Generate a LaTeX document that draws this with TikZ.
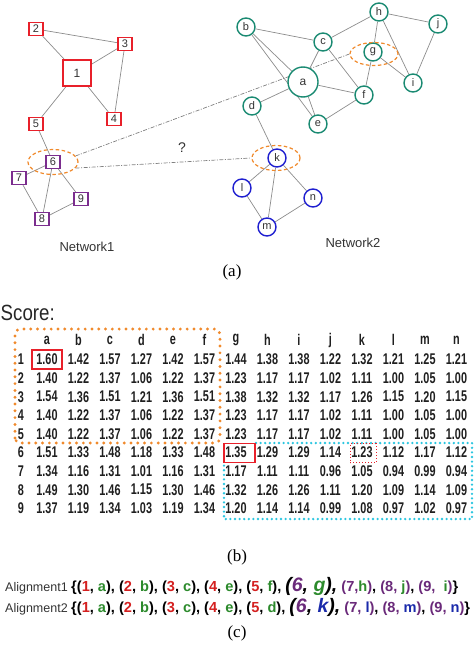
\documentclass[tikz,border=0pt]{standalone}
\usepackage{fontspec}
\setmainfont{Liberation Sans}
\newfontfamily\serifx{Liberation Serif}
\newfontfamily\narrowx[FakeStretch=0.7]{Liberation Sans}
\newfontfamily\scorex[FakeStretch=0.85]{Liberation Sans}
\usetikzlibrary{shapes.geometric,backgrounds}
\definecolor{nred}{HTML}{E8202A}
\definecolor{npur}{HTML}{7B2D8E}
\definecolor{nteal}{HTML}{1A8A72}
\definecolor{nblue}{HTML}{1F1FD0}
\definecolor{norange}{HTML}{F08A2C}
\definecolor{ncyan}{HTML}{2BC6E0}
\definecolor{egray}{HTML}{8C8C8C}
\definecolor{txt}{HTML}{333333}
\definecolor{ared}{HTML}{D42020}
\definecolor{agreen}{HTML}{2C8A2C}
\definecolor{apur}{HTML}{6A2A7A}
\definecolor{ablue}{HTML}{1A2AAA}
\newcommand\alR[1]{\textcolor{ared}{#1}}
\newcommand\alG[1]{\textcolor{agreen}{#1}}
\newcommand\alP[1]{\textcolor{apur}{#1}}
\newcommand\alB[1]{\textcolor{ablue}{#1}}
\newcommand\alBig[1]{{\fontsize{19.5}{19.5}\selectfont\bfseries\itshape #1}}
\tikzset{
  lbl/.style={text=txt, font=\fontsize{11}{11}\selectfont},
  sqr/.style={lbl, draw=nred, line width=1.3pt, fill=white, minimum width=14pt, minimum height=13pt, inner sep=0pt},
  sqp/.style={sqr, draw=npur},
  cir/.style={lbl, circle, draw=nteal, line width=1.4pt, fill=white, minimum size=18pt, inner sep=0pt},
  cirb/.style={cir, draw=nblue},
  nedge/.style={egray, line width=0.7pt},
  ring/.style={ellipse, draw=norange, line width=1.2pt, dash pattern=on 3.5pt off 2.5pt},
  link/.style={gray, line width=0.7pt, dash pattern=on 4pt off 1.5pt on 1pt off 1.5pt},
  num/.style={inner sep=0pt, text=black!88, font=\narrowx\bfseries\fontsize{15.5}{15.5}\selectfont},
  redbox/.style={draw=nred, line width=1.2pt, minimum width=30pt, minimum height=19pt, inner sep=0pt},
  odots/.style={norange, line width=3.2pt, dash pattern=on 0pt off 6.8pt, line cap=round},
  cdots/.style={ncyan, line width=2.6pt, dash pattern=on 0pt off 4.6pt, line cap=round},
  captext/.style={font=\serifx\fontsize{17}{17}\selectfont},
  aline/.style={anchor=west, inner sep=0pt, font=\fontsize{12.5}{12.5}\selectfont},
}
\begin{document}
\begin{tikzpicture}[x=1pt,y=-1pt]
\useasboundingbox (0,0) rectangle (474,645);
% ---------- Network 1
\node[sqr] (n2) at (36,29) {2};
\node[sqr] (n3) at (125,44) {3};
\node[sqr, minimum width=28pt, minimum height=26pt, font=\fontsize{12}{12}\selectfont] (n1) at (77,73) {1};
\node[sqr] (n4) at (114,119) {4};
\node[sqr] (n5) at (36,124) {5};
\node[sqp] (n6) at (53,162) {6};
\node[sqp] (n7) at (19,178) {7};
\node[sqp] (n9) at (81,199) {9};
\node[sqp] (n8) at (42,219) {8};
\node[lbl, font=\fontsize{13}{13}\selectfont] (net1) at (87,247) {Network1};
\node[ring, minimum width=50pt, minimum height=25pt] (e6) at (53,162) {};
% ---------- Network 2
\node[cir] (h) at (379,12) {h};
\node[cir] (j) at (438,24) {j};
\node[cir] (b) at (246,27) {b};
\node[cir] (c) at (323,42) {c};
\node[cir] (g) at (373,52) {g};
\node[cir, minimum size=30pt, font=\fontsize{12}{12}\selectfont] (a) at (303,82) {a};
\node[cir] (i) at (413,83) {i};
\node[cir] (f) at (364,95) {f};
\node[cir] (d) at (252,106) {d};
\node[cir] (e) at (318,124) {e};
\node[cirb] (k) at (277,158) {k};
\node[cirb] (l) at (242,188) {l};
\node[cirb] (n) at (313,198) {n};
\node[cirb] (m) at (267,227) {m};
\node[ring, minimum width=48pt, minimum height=23pt] (eg) at (374,54) {};
\node[ring, minimum width=48pt, minimum height=25pt] (ek) at (276,158) {};
\node[lbl, font=\fontsize{13}{13}\selectfont] (net2) at (353,243) {Network2};
\node[font=\fontsize{14}{14}\selectfont, text=txt] (q) at (182,148) {?};
\node[captext] (capa) at (232,272) {(a)};
\begin{pgfonlayer}{background}
\foreach \u/\v in {n2/n3,n2/n1,n1/n3,n3/n4,n1/n4,n1/n5,n5/n6,n6/n7,n6/n8,n6/n9,n7/n8,n8/n9}
  \draw[nedge] (\u) -- (\v);
\foreach \u/\v in {b/c,b/a,b/e,c/h,c/a,c/f,h/g,h/j,h/i,g/f,g/i,j/i,a/f,a/e,a/d,e/f,d/k,k/l,k/m,k/n,l/m,m/n}
  \draw[nedge] (\u) -- (\v);
\draw[link] (e6.15) -- (eg.west);
\draw[link] (e6.-15) -- (ek.west);
\end{pgfonlayer}
% ---------- Score table
\node[anchor=west, inner sep=0pt, font=\scorex\fontsize{22}{22}\selectfont, text=black!85] (score) at (0.5,313) {Score:};
\foreach \hh [count=\jj from 0] in {a,b,c,d,e,f,g,h,i,j,k,l,m,n}
  \node[num] (hd\jj) at ({47+31.5*\jj},340) {\hh};
\foreach \r/\vals in {
 1/{1.60,1.42,1.57,1.27,1.42,1.57,1.44,1.38,1.38,1.22,1.32,1.21,1.25,1.21},
 2/{1.40,1.22,1.37,1.06,1.22,1.37,1.23,1.17,1.17,1.02,1.11,1.00,1.05,1.00},
 3/{1.54,1.36,1.51,1.21,1.36,1.51,1.38,1.32,1.32,1.17,1.26,1.15,1.20,1.15},
 4/{1.40,1.22,1.37,1.06,1.22,1.37,1.23,1.17,1.17,1.02,1.11,1.00,1.05,1.00},
 5/{1.40,1.22,1.37,1.06,1.22,1.37,1.23,1.17,1.17,1.02,1.11,1.00,1.05,1.00},
 6/{1.51,1.33,1.48,1.18,1.33,1.48,1.35,1.29,1.29,1.14,1.23,1.12,1.17,1.12},
 7/{1.34,1.16,1.31,1.01,1.16,1.31,1.17,1.11,1.11,0.96,1.05,0.94,0.99,0.94},
 8/{1.49,1.30,1.46,1.15,1.30,1.46,1.32,1.26,1.26,1.11,1.20,1.09,1.14,1.09},
 9/{1.37,1.19,1.34,1.03,1.19,1.34,1.20,1.14,1.14,0.99,1.08,0.97,1.02,0.97}}
{
  \node[num] (r\r) at (21,{359.5+18.6*(\r-1)}) {\r};
  \foreach \v [count=\jj from 0] in \vals
    \node[num] (v\r-\jj) at ({47+31.5*\jj},{359.5+18.6*(\r-1)}) {\v};
}
\draw[odots, rounded corners=5pt] (15,443) -- (15,329) -- (220,329) -- (220,443) -- cycle;
\draw[cdots] (256,443) -- (472,443) -- (472,519) -- (224,519) -- (224,464);
\node[redbox] (sel1) at (v1-0) {};
\node[redbox, minimum width=31pt] (sel2) at (239.5,453) {};
\node[redbox, line width=1pt, dotted, minimum width=26pt] (sel3) at (363,453) {};
\node[captext] (capb) at (237,557) {(b)};
% ---------- Alignments
\node[aline] (al1) at (5,586) {\textcolor{txt}{Alignment1} {\fontsize{14.6}{14.6}\selectfont\bfseries\{(\alR{1}, \alG{a}), (\alR{2}, \alG{b}), (\alR{3}, \alG{c}), (\alR{4}, \alG{e}), (\alR{5},\ \alG{f}), \alBig{(\alP{6}, \alG{g}),} \alP{(7,}\alG{h}\alP{)}, \alP{(8,} \alG{j}\alP{ )}, \alP{(9,} \ \alG{i}\alP{ )}\}}};
\node[aline] (al2) at (5,607) {\textcolor{txt}{Alignment2} {\fontsize{14.6}{14.6}\selectfont\bfseries\{(\alR{1}, \alG{a}), (\alR{2}, \alG{b}), (\alR{3}, \alG{c}), (\alR{4}, \alG{e}), (\alR{5}, \alG{d}), \alBig{(\alP{6}, \alB{k}),} \alP{(7,} \alB{l}\alP{)}, \alP{(8,} \alB{m}\alP{)}, \alP{(9,} \alB{n}\alP{)}\}}};
\node[captext] (capc) at (237,633) {(c)};
\end{tikzpicture}
\end{document}
